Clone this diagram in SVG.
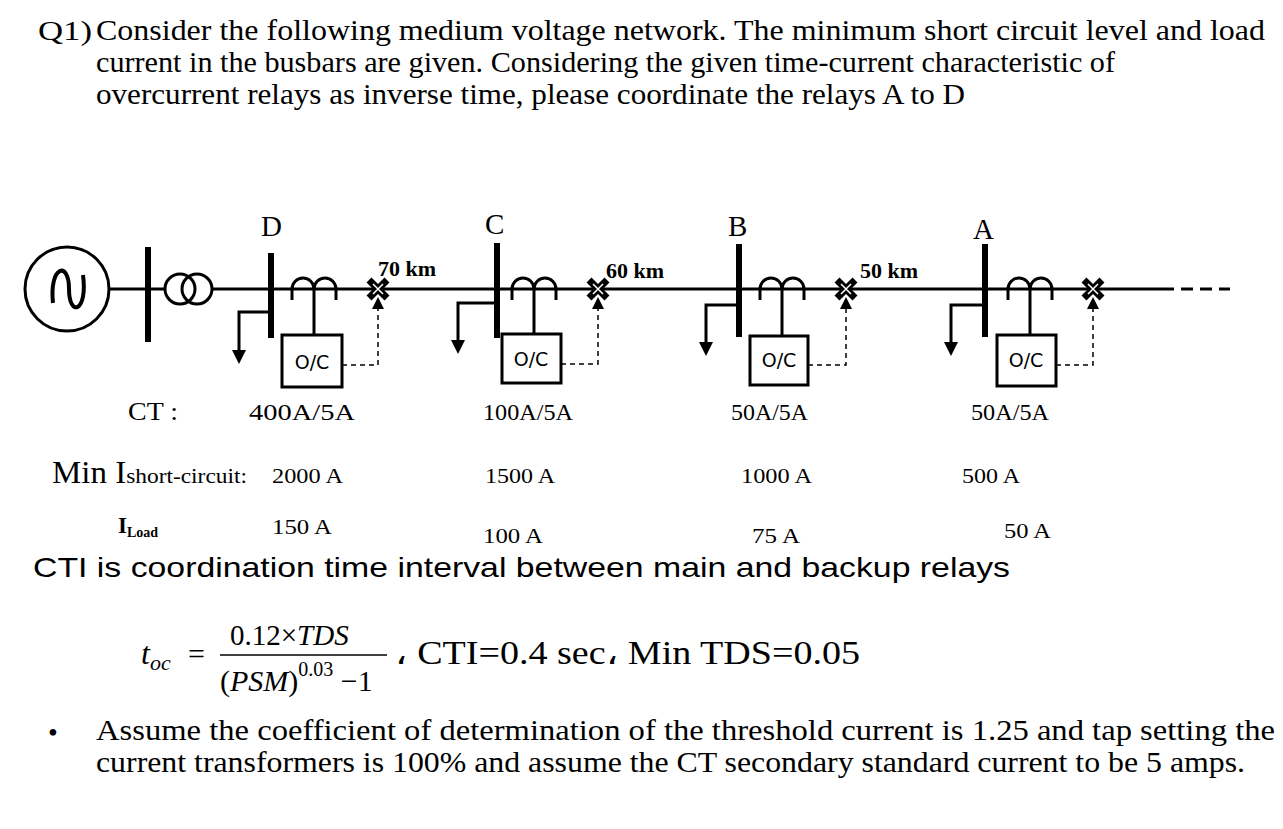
<svg xmlns="http://www.w3.org/2000/svg" width="1283" height="829" viewBox="0 0 1283 829">
<style>
.t{font-family:"Liberation Serif",serif;fill:#000}
.s{font-family:"Liberation Sans",sans-serif;fill:#000}
.ln{stroke:#000;stroke-width:3;fill:none}
.bus{stroke:#000;stroke-width:6}
.box{stroke:#000;stroke-width:3;fill:#fff}
.dash{stroke:#000;stroke-width:1.5;stroke-dasharray:5,4;fill:none}
.oc{font-family:"DejaVu Sans",sans-serif;font-size:19px}
.ah{fill:#000}
</style>
<defs>
<g id="brk">
<path d="M-9,-9 L9,9 M9,-9 L-9,9" stroke="#000" stroke-width="7"/>
<path d="M-5,-5 L5,5 M5,-5 L-5,5" stroke="#fff" stroke-width="1.5"/>
<path d="M0,8 L-6,20 L6,20 Z" fill="#000"/>
</g>
<g id="coil"><path d="M-22,11 L-22,0 A11,11 0 0 1 0,0 A11,11 0 0 1 22,0 L22,11" class="ln"/></g>
<path id="arr" d="M-7,0 L7,0 L0,14 Z"/>
</defs>
<text class="t" font-size="28" x="38" y="40" textLength="54" lengthAdjust="spacingAndGlyphs">Q1)</text>
<text class="t" font-size="30" x="96" y="40" textLength="1169" lengthAdjust="spacingAndGlyphs">Consider the following medium voltage network. The minimum short circuit level and load</text>
<text class="t" font-size="30" x="96" y="72" textLength="1019" lengthAdjust="spacingAndGlyphs">current in the busbars are given. Considering the given time-current characteristic of</text>
<text class="t" font-size="30" x="96" y="104" textLength="869" lengthAdjust="spacingAndGlyphs">overcurrent relays as inverse time, please coordinate the relays A to D</text>

<g id="connectors">
<line class="ln" x1="109" y1="289" x2="165" y2="289"/>
<line class="ln" x1="212" y1="289" x2="1162" y2="289"/>
<line x1="1162" y1="289" x2="1230" y2="289" stroke="#000" stroke-width="3" stroke-dasharray="12,7"/>
</g>
<g id="source">
<circle cx="67" cy="289" r="42" class="ln"/>
<path d="M53,303 C49,266 69,260 69,289 C69,318 88,312 83,275" stroke="#000" stroke-width="4" fill="none"/>
<line class="bus" x1="148" y1="247" x2="148" y2="342"/>
<circle cx="180" cy="289" r="15" class="ln"/>
<circle cx="197" cy="289" r="15" class="ln"/>
</g>

<g id="busD">
<text class="t" font-size="29" x="261" y="236">D</text>
<line class="bus" x1="271" y1="253" x2="271" y2="338"/>
<path d="M271,312 L239,312 L239,352" class="ln"/>
<use href="#arr" x="239" y="350" class="ah"/>
<use href="#coil" x="314" y="289"/>
<line class="ln" x1="314" y1="289" x2="314" y2="335"/>
<rect class="box" x="282" y="335" width="60" height="52"/>
<text class="oc" x="312" y="369" text-anchor="middle">O/C</text>
<path class="dash" d="M342,365 L378,365 L378,306"/>
<use href="#brk" x="378" y="289"/>
<text class="t" font-size="22" font-weight="bold" x="378" y="276">70 km</text>
<text class="t" font-size="23" x="249" y="420" textLength="106" lengthAdjust="spacingAndGlyphs">400A/5A</text>
</g>

<g id="busC">
<text class="t" font-size="29" x="485" y="234">C</text>
<line class="bus" x1="497" y1="243" x2="497" y2="338"/>
<path d="M497,303 L458,303 L458,342" class="ln"/>
<use href="#arr" x="458" y="340" class="ah"/>
<use href="#coil" x="534" y="289"/>
<line class="ln" x1="534" y1="289" x2="534" y2="334"/>
<rect class="box" x="502" y="334" width="59" height="49"/>
<text class="oc" x="531" y="366" text-anchor="middle">O/C</text>
<path class="dash" d="M561,364 L598,364 L598,306"/>
<use href="#brk" x="598" y="289"/>
<text class="t" font-size="22" font-weight="bold" x="606" y="278">60 km</text>
<text class="t" font-size="23" x="483" y="420" textLength="90" lengthAdjust="spacingAndGlyphs">100A/5A</text>
</g>

<g id="busB">
<text class="t" font-size="29" x="728" y="236">B</text>
<line class="bus" x1="739" y1="244" x2="739" y2="337"/>
<path d="M739,305 L706,305 L706,344" class="ln"/>
<use href="#arr" x="706" y="342" class="ah"/>
<use href="#coil" x="782" y="289"/>
<line class="ln" x1="782" y1="289" x2="782" y2="336"/>
<rect class="box" x="750" y="336" width="58" height="49"/>
<text class="oc" x="779" y="367" text-anchor="middle">O/C</text>
<path class="dash" d="M808,365 L846,365 L846,306"/>
<use href="#brk" x="846" y="289"/>
<text class="t" font-size="22" font-weight="bold" x="860" y="278">50 km</text>
<text class="t" font-size="23" x="731" y="420" textLength="77" lengthAdjust="spacingAndGlyphs">50A/5A</text>
</g>

<g id="busA">
<text class="t" font-size="29" x="973" y="239">A</text>
<line class="bus" x1="985" y1="244" x2="985" y2="337"/>
<path d="M985,305 L951,305 L951,344" class="ln"/>
<use href="#arr" x="951" y="342" class="ah"/>
<use href="#coil" x="1030" y="289"/>
<line class="ln" x1="1030" y1="289" x2="1030" y2="335"/>
<rect class="box" x="997" y="335" width="59" height="51"/>
<text class="oc" x="1026" y="367" text-anchor="middle">O/C</text>
<path class="dash" d="M1056,365 L1093,365 L1093,306"/>
<use href="#brk" x="1093" y="289"/>
<text class="t" font-size="23" x="971" y="420" textLength="78" lengthAdjust="spacingAndGlyphs">50A/5A</text>
</g>

<text class="t" font-size="26" x="128" y="420" textLength="50" lengthAdjust="spacingAndGlyphs">CT :</text>
<text class="t" x="52" y="483" textLength="195" lengthAdjust="spacingAndGlyphs"><tspan font-size="31">Min I</tspan><tspan font-size="22">short-circuit:</tspan></text>
<text class="t" font-size="22" x="272" y="483" textLength="71" lengthAdjust="spacingAndGlyphs">2000 A</text>
<text class="t" font-size="22" x="485" y="483" textLength="70" lengthAdjust="spacingAndGlyphs">1500 A</text>
<text class="t" font-size="22" x="741" y="483" textLength="71" lengthAdjust="spacingAndGlyphs">1000 A</text>
<text class="t" font-size="22" x="962" y="483" textLength="58" lengthAdjust="spacingAndGlyphs">500 A</text>
<text class="t" font-weight="bold" x="118" y="533"><tspan font-size="23">I</tspan><tspan font-size="14" dy="4">Load</tspan></text>
<text class="t" font-size="22" x="272" y="534" textLength="60" lengthAdjust="spacingAndGlyphs">150 A</text>
<text class="t" font-size="22" x="483" y="543" textLength="60" lengthAdjust="spacingAndGlyphs">100 A</text>
<text class="t" font-size="22" x="752" y="543" textLength="48" lengthAdjust="spacingAndGlyphs">75 A</text>
<text class="t" font-size="22" x="1004" y="538" textLength="47" lengthAdjust="spacingAndGlyphs">50 A</text>
<text class="s" font-size="28" x="33" y="577" textLength="977" lengthAdjust="spacingAndGlyphs">CTI is coordination time interval between main and backup relays</text>

<g id="formula">
<text class="t" x="141" y="664"><tspan font-size="32" font-style="italic">t</tspan><tspan font-size="22" font-style="italic" dy="6">oc</tspan></text>
<text class="t" font-size="30" x="188" y="664">=</text>
<text class="t" font-size="29" x="230" y="645">0.12×<tspan font-style="italic">TDS</tspan></text>
<line x1="220" y1="655" x2="387" y2="655" stroke="#000" stroke-width="1.5"/>
<text class="t" font-size="30" x="220" y="691">(<tspan font-style="italic">PSM</tspan>)<tspan font-size="20" dy="-15">0.03</tspan><tspan dy="15"> −1</tspan></text>
<text class="t" font-size="33" x="395" y="664" textLength="465" lengthAdjust="spacingAndGlyphs">، CTI=0.4 sec، Min TDS=0.05</text>
</g>
<text class="t" font-size="28" x="48" y="742">•</text>
<text class="t" font-size="29" x="96" y="740" textLength="1179" lengthAdjust="spacingAndGlyphs">Assume the coefficient of determination of the threshold current is 1.25 and tap setting the</text>
<text class="t" font-size="29" x="96" y="772" textLength="1149" lengthAdjust="spacingAndGlyphs">current transformers is 100% and assume the CT secondary standard current to be 5 amps.</text>
</svg>
